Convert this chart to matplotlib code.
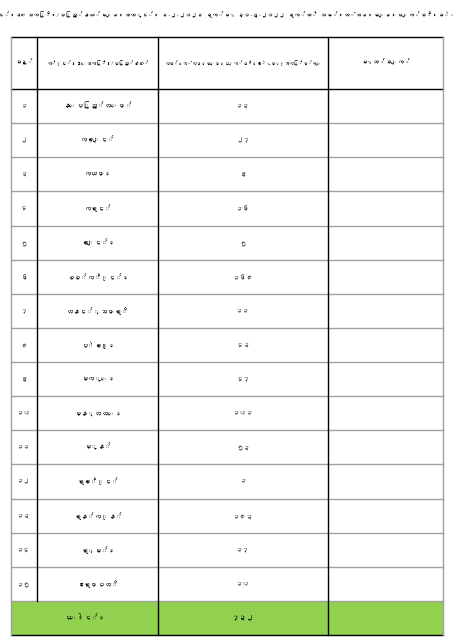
import matplotlib.pyplot as plt
from matplotlib import font_manager
from matplotlib.patches import Rectangle

title = "တိုင်းဒေသကြီး/ပြည်နယ်များအတွင်း ၁-၂-၂၀၂၁ ရက်မှ ၃၀-၉-၂၀၂၂ ရက်ထိ လမ်းတံတားများပျက်စီးခဲ့မှု"
headers = ["စဉ်", "တိုင်းဒေသကြီး/ပြည်နယ်", "လမ်းတံတားများပျက်စီးခဲ့မှုအကြိမ်ရေ", "မှတ်ချက်"]
serials = ["၁", "၂", "၃", "၄", "၅", "၆", "၇", "၈", "၉", "၁၀", "၁၁", "၁၂", "၁၃", "၁၄", "၁၅"]
regions = ["နေပြည်တော်", "ကချင်", "ကယား", "ကရင်", "ချင်း", "စစ်ကိုင်း", "တနင်္သာရီ", "ပဲခူး",
           "မကွေး", "မန္တလေး", "မွန်", "ရခိုင်", "ရန်ကုန်", "ရှမ်း", "ဧရာဝတီ"]
counts = [13, 27, 9, 16, 5, 168, 11, 43, 47, 101, 53, 1, 183, 17, 10]
total_label = "ပေါင်း"
total_text = "၇၃၂"

MY_DIGITS = "၀၁၂၃၄၅၆၇၈၉"


def to_my(n):
    return "".join(MY_DIGITS[int(c)] for c in str(n))


# look for any installed font that has Myanmar glyphs
families = []
for f in font_manager.findSystemFonts():
    try:
        ft = font_manager.get_font(f)
        if 0x1000 in ft.get_charmap():
            families.append(font_manager.FontProperties(fname=f).get_name())
            break
    except Exception:
        pass
plt.rcParams['font.family'] = families + ['Noto Sans', 'DejaVu Sans']

fig = plt.figure(figsize=(4.53, 6.44), dpi=100)
ax = fig.add_axes([0, 0, 1, 1])
ax.set_xlim(0, 453)
ax.set_ylim(644, 0)
ax.axis('off')

cols = [11, 37, 158, 328, 443]
top, head_bot, row_h = 37, 89, 34.13
n = len(regions)
tot_top = head_bot + n * row_h
tot_bot = tot_top + 34

ax.text(226, 15, title, ha='center', va='center', fontsize=4.2)

# total row fill
ax.add_patch(Rectangle((cols[0], tot_top), cols[4] - cols[0], tot_bot - tot_top,
                       facecolor='#92d050', edgecolor='none'))

# headers
head_sizes = [4.5, 3.6, 3.3, 4.5]
for i, h in enumerate(headers):
    ax.text((cols[i] + cols[i + 1]) / 2, (top + head_bot) / 2, h,
            ha='center', va='center', fontsize=head_sizes[i])

for i in range(n):
    yc = head_bot + (i + 0.5) * row_h
    ax.text((cols[0] + cols[1]) / 2, yc, serials[i], ha='center', va='center', fontsize=5, color='#444444')
    ax.text((cols[1] + cols[2]) / 2, yc, regions[i], ha='center', va='center', fontsize=5)
    ax.text((cols[2] + cols[3]) / 2, yc, to_my(counts[i]), ha='center', va='center', fontsize=5, color='#444444')
    if i > 0:
        ax.plot([cols[0], cols[4]], [head_bot + i * row_h] * 2, color='#a0a0a0', lw=1)

ax.text((cols[0] + cols[2]) / 2, (tot_top + tot_bot) / 2, total_label, ha='center', va='center', fontsize=5)
ax.text((cols[2] + cols[3]) / 2, (tot_top + tot_bot) / 2, total_text, ha='center', va='center', fontsize=5.5)

# grid lines
ax.plot([cols[0], cols[4]], [head_bot] * 2, color='black', lw=1)
ax.plot([cols[0], cols[4]], [tot_top] * 2, color='#a0a0a0', lw=1)
ax.plot([cols[0], cols[4]], [top] * 2, color='black', lw=1)
ax.plot([cols[0], cols[4]], [tot_bot] * 2, color='black', lw=1)
ax.plot([cols[1], cols[1]], [top, tot_top], color='black', lw=1)
for x in cols[2:4]:
    ax.plot([x, x], [top, tot_bot], color='black', lw=1)
for x in (cols[0], cols[4]):
    ax.plot([x, x], [top, tot_bot], color='#a0a0a0', lw=1)

fig.savefig('out.png', dpi=100)
